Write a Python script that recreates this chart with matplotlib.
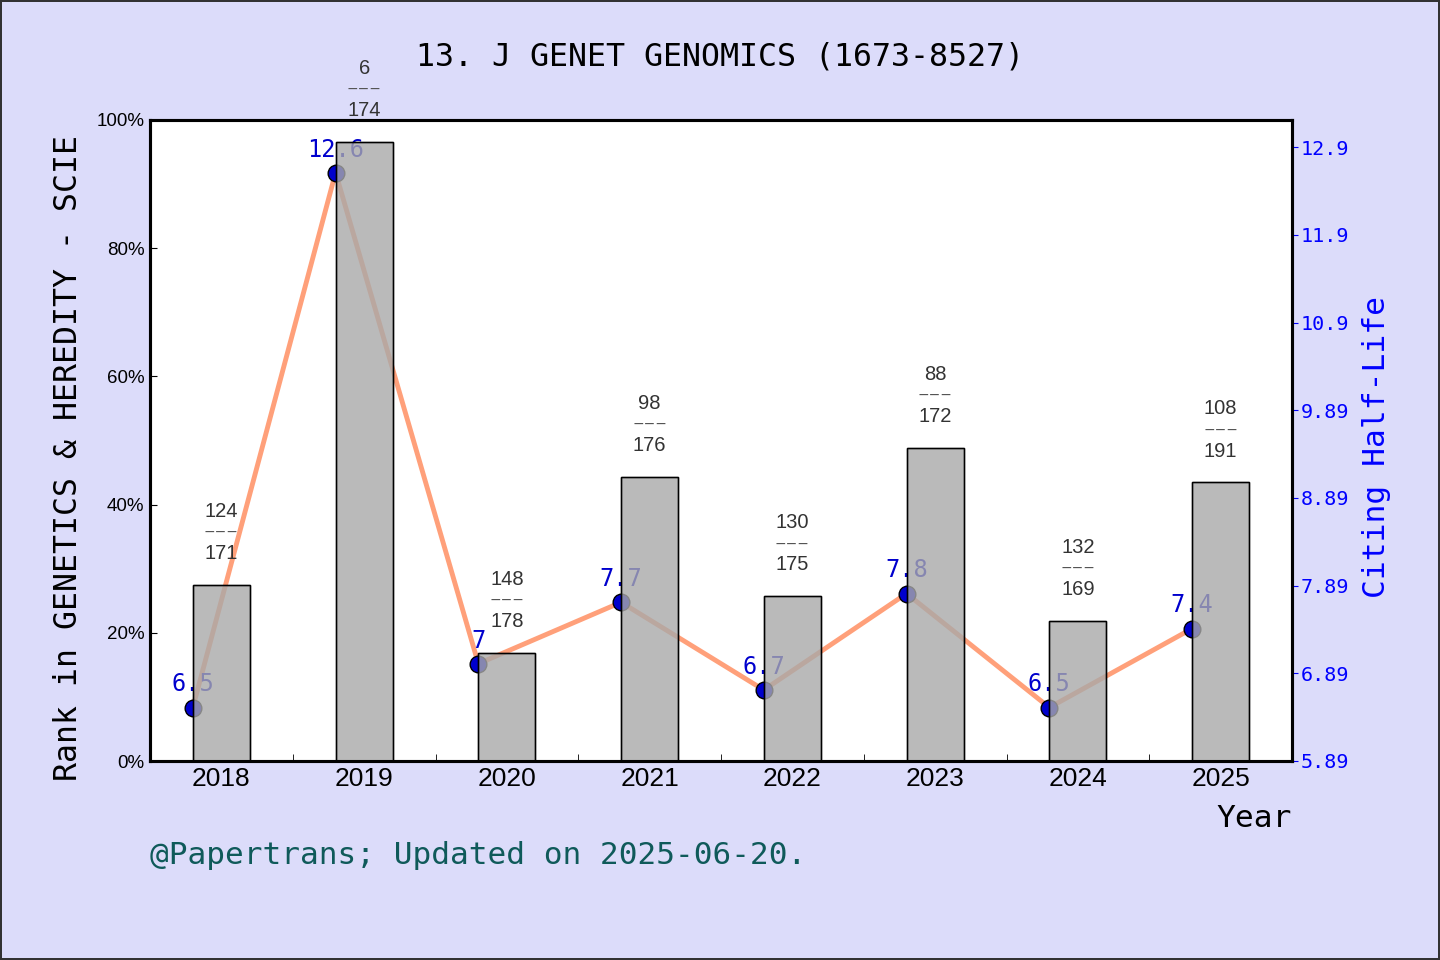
import matplotlib
matplotlib.use("Agg")
import matplotlib.pyplot as plt
import numpy as np

years = ["2018", "2019", "2020", "2021", "2022", "2023", "2024", "2025"]
ranks = [124, 6, 148, 98, 130, 88, 132, 108]
totals = [171, 174, 178, 176, 175, 172, 169, 191]
half_life = [6.5, 12.6, 7, 7.7, 6.7, 7.8, 6.5, 7.4]
hl_labels = ["6.5", "12.6", "7", "7.7", "6.7", "7.8", "6.5", "7.4"]
pct_ticks = [0, 0.2, 0.4, 0.6, 0.8, 1.0]
pct_labels = ["0%", "20%", "40%", "60%", "80%", "100%"]
right_ticks = [5.89, 6.89, 7.89, 8.89, 9.89, 10.89, 11.89, 12.89]
right_labels = ["5.89", "6.89", "7.89", "8.89", "9.89", "10.9", "11.9", "12.9"]

title = "13. J GENET GENOMICS (1673-8527)"
mono = "DejaVu Sans Mono"
sans = "Liberation Sans"

bar_vals = [1 - r / t for r, t in zip(ranks, totals)]
x = np.arange(len(years))

fig = plt.figure(figsize=(14.4, 9.6), dpi=100, facecolor="#dcdcfa",
                 edgecolor="#333333", linewidth=1.5)
pos = [150 / 1440, 1 - 761 / 960, (1292 - 150) / 1440, (761 - 120) / 960]
ax_line = fig.add_axes(pos)
ax_line.set_facecolor("white")
ax_bar = ax_line.twinx()

# line (right scale)
ax_line.plot(x - 0.2, half_life, color="#ffa07a", lw=3.5, zorder=2)
ax_line.plot(x - 0.2, half_life, "o", ms=12, mfc="#0000cd", mec="black",
             mew=1, zorder=3)
for xi, v, lab in zip(x, half_life, hl_labels):
    ax_line.annotate(lab, (xi - 0.2, v), xytext=(0, 8), textcoords="offset points",
                     ha="center", va="bottom", color="#0000cd",
                     fontsize=17, family=mono, zorder=4)
ax_line.set_ylim(min(half_life) - 0.61, max(half_life) + 0.6)
ax_line.yaxis.tick_right()
ax_line.yaxis.set_label_position("right")
ax_line.set_yticks(right_ticks)
ax_line.set_yticklabels(right_labels, family=mono, fontsize=14.5, color="blue")
ax_line.tick_params(axis="y", colors="blue", direction="out", length=4, pad=2)
ax_line.set_ylabel("Citing Half-Life", family=mono, fontsize=22.5, color="blue")
ax_line.yaxis.set_label_coords(1 + 70 / 1142, (761 - 447) / 641)

# bars (left scale)
ax_bar.bar(x, bar_vals, width=0.4, color="#a9a9a9", alpha=0.8,
           edgecolor="black", linewidth=1, zorder=2)
ax_bar.bar(x, bar_vals, width=0.4, facecolor="none",
           edgecolor="black", linewidth=1, zorder=3)
for xi, v, r, t in zip(x, bar_vals, ranks, totals):
    kw = dict(textcoords="offset points", ha="center", va="center",
              annotation_clip=False)
    ax_bar.annotate(str(t), (xi, v), xytext=(0, 22.5), fontsize=14.5,
                    family=sans, color="#333333", **kw)
    ax_bar.annotate("\u2212\u2212\u2212", (xi, v), xytext=(0, 38), fontsize=10,
                    family="DejaVu Sans", color="#555555", **kw)
    ax_bar.annotate(str(r), (xi, v), xytext=(0, 53), fontsize=14.5,
                    family=sans, color="#333333", **kw)
ax_bar.set_ylim(0, 1)
ax_bar.yaxis.tick_left()
ax_bar.yaxis.set_label_position("left")
ax_bar.set_yticks(pct_ticks)
ax_bar.set_yticklabels(pct_labels, family=sans, fontsize=13.5)
ax_bar.tick_params(axis="y", direction="in", length=5, pad=4)
ax_bar.set_ylabel("Rank in GENETICS & HEREDITY - SCIE", family=mono,
                  fontsize=22.7)
ax_bar.yaxis.set_label_coords(-66 / 1142, (761 - 458) / 641)

ax_line.set_xlim(-0.5, len(years) - 0.5)
ax_line.set_xticks(x)
ax_line.set_xticklabels(years, family=sans, fontsize=19)
ax_line.set_xticks(x[:-1] + 0.5, minor=True)
ax_line.tick_params(axis="x", which="major", length=0, pad=4)
ax_line.tick_params(axis="x", which="minor", direction="in", length=5)
ax_line.set_xlabel("Year", family=mono, fontsize=22.5, loc="right", labelpad=10)

for a in (ax_line, ax_bar):
    for s in a.spines.values():
        s.set_linewidth(2.2)
        s.set_color("black")

fig.text(0.5, 1 - 57 / 960, title, ha="center", va="center", family=mono,
         fontsize=22.8)
fig.text(150 / 1440, 1 - 855 / 960, "@Papertrans; Updated on 2025-06-20.",
         ha="left", va="center", family=mono, fontsize=22.4, color="#0f5a5a")

fig.savefig("out.png", dpi=100, facecolor=fig.get_facecolor(),
            edgecolor=fig.get_edgecolor())
